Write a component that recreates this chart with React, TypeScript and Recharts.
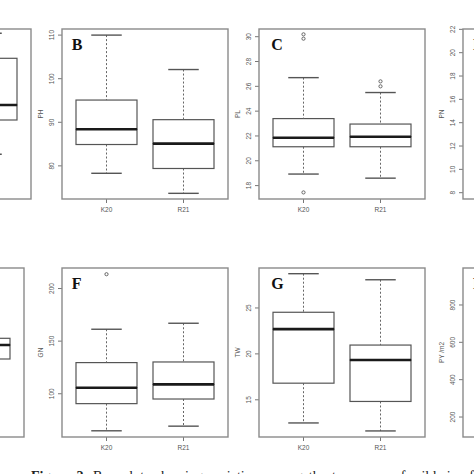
import React from 'react';
import { ComposedChart, Bar, Line, XAxis, YAxis } from 'recharts';

const groups = ['K20', 'R21'];

// five-number summaries per group: [min, q1, median, q3, max]
const statsA = [[48, 70, 88, 118, 150], [44.7, 79, 94, 140.7, 165.7]];
const statsB = [[78.3, 84.9, 88.4, 95.1, 110], [73.7, 79.4, 85.1, 90.6, 102.1]];
const statsC = [[18.93, 21.13, 21.86, 23.4, 26.7], [18.6, 21.13, 21.94, 22.96, 25.5]];
const statsD = [[9, 11.5, 13.5, 16, 20.5], [8, 11, 13, 15, 19]];
const statsE = [[40, 62, 80, 100, 130], [45, 78, 92, 98.7, 130]];
const statsF = [[64.8, 90.6, 105.7, 129.6, 161.3], [69.2, 95, 108.9, 130.2, 167]];
const statsG = [[12.48, 16.81, 22.69, 24.53, 28.73], [11.61, 14.82, 19.33, 20.96, 28.07]];
const statsH = [[180, 330, 420, 560, 820], [150, 300, 380, 500, 760]];

const outliersC = [[30.19, 29.84, 17.45], [26.4, 26.0]];
const outliersD = [[21.5], []];
const outliersF = [[213.6], []];

const ticksB = [80, 90, 100, 110];
const ticksC = [18, 20, 22, 24, 26, 28, 30];
const ticksD = [8, 10, 12, 14, 16, 18, 20, 22];
const ticksF = [100, 150, 200];
const ticksG = [15, 20, 25];
const ticksH = [200, 400, 600, 800];

const PW = 166; // plot width
const ML = 45; // left space for y axis
const MT = 10;

const lowWhisker = (p: any) => {
  const cx = p.x + p.width / 2;
  const cap = p.width / 4;
  const bottom = p.y + p.height;
  return (
    <g>
      <line x1={cx} y1={p.y} x2={cx} y2={bottom} stroke="#666" strokeDasharray="2 2" />
      <line x1={cx - cap} y1={bottom} x2={cx + cap} y2={bottom} stroke="#555" strokeWidth={1.4} />
    </g>
  );
};

const highWhisker = (p: any) => {
  const cx = p.x + p.width / 2;
  const cap = p.width / 4;
  return (
    <g>
      <line x1={cx} y1={p.y} x2={cx} y2={p.y + p.height} stroke="#666" strokeDasharray="2 2" />
      <line x1={cx - cap} y1={p.y} x2={cx + cap} y2={p.y} stroke="#555" strokeWidth={1.4} />
    </g>
  );
};

const lowBox = (p: any) => (
  <rect x={p.x} y={p.y} width={p.width} height={p.height} fill="#fff" stroke="#555" strokeWidth={1.2} />
);

const highBox = (p: any) => (
  <g>
    <rect x={p.x} y={p.y} width={p.width} height={p.height} fill="#fff" stroke="#555" strokeWidth={1.2} />
    <line x1={p.x} y1={p.y + p.height} x2={p.x + p.width} y2={p.y + p.height} stroke="#1a1a1a" strokeWidth={2.6} />
  </g>
);

const txtFont = '"Liberation Sans", Arial, sans-serif';

function BoxPanel({ left, top, h, stats, outliers, domain, ticks, label, letter, letterDx, showX = true }: any) {
  const data = groups.map((g, i) => {
    const [mn, q1, md, q3, mx] = stats[i];
    const out = outliers ? outliers[i] : [];
    return {
      name: g,
      base: mn,
      lowW: q1 - mn,
      lowB: md - q1,
      highB: q3 - md,
      highW: mx - q3,
      o1: out[0] ?? null,
      o2: out[1] ?? null,
      o3: out[2] ?? null,
    };
  });

  const yTick = (p: any) => {
    const bx = ML - 7.5;
    return (
      <text x={bx} y={p.y} transform={`rotate(-90 ${bx} ${p.y})`} textAnchor="middle" fontSize={6.5} fill="#555" fontFamily={txtFont}>
        {p.payload.value}
      </text>
    );
  };
  const xTick = (p: any) => (
    <text x={p.x} y={MT + h + 13.3} textAnchor="middle" fontSize={6.5} fill="#555" fontFamily={txtFont}>
      {p.payload.value}
    </text>
  );
  const dot = { r: 1.6, fill: 'none', stroke: '#666', strokeWidth: 1 };

  return (
    <div style={{ position: 'absolute', left: left - ML, top: top - MT, width: ML + PW + 10, height: MT + h + 25 }}>
      <ComposedChart width={ML + PW + 10} height={MT + h + 25} data={data} margin={{ top: MT, right: 10, bottom: 0, left: 0 }}>
        <XAxis dataKey="name" padding={{ left: 6, right: 6 }} axisLine={false} tickSize={4} tickLine={{ stroke: '#777' }} height={25} tick={showX ? xTick : false} interval={0} />
        <YAxis type="number" domain={domain} allowDataOverflow ticks={ticks} width={ML} axisLine={false} tickSize={4} tickMargin={2} tickLine={{ stroke: '#777' }} tick={yTick} interval={0} />
        <Bar dataKey="base" stackId="s" barSize={61} shape={() => <g />} isAnimationActive={false} />
        <Bar dataKey="lowW" stackId="s" barSize={61} shape={lowWhisker} isAnimationActive={false} />
        <Bar dataKey="lowB" stackId="s" barSize={61} shape={lowBox} isAnimationActive={false} />
        <Bar dataKey="highB" stackId="s" barSize={61} shape={highBox} isAnimationActive={false} />
        <Bar dataKey="highW" stackId="s" barSize={61} shape={highWhisker} isAnimationActive={false} />
        <Line dataKey="o1" stroke="none" dot={dot} activeDot={false} isAnimationActive={false} />
        <Line dataKey="o2" stroke="none" dot={dot} activeDot={false} isAnimationActive={false} />
        <Line dataKey="o3" stroke="none" dot={dot} activeDot={false} isAnimationActive={false} />
      </ComposedChart>
      <svg width={ML + PW + 10} height={MT + h + 25} style={{ position: 'absolute', left: 0, top: 0, pointerEvents: 'none' }}>
        <rect x={ML} y={MT} width={PW} height={h} fill="none" stroke="#8a8a8a" strokeWidth={1.4} />
        {label && (
          <text x={ML - 19.5} y={MT + h / 2} transform={`rotate(-90 ${ML - 19.5} ${MT + h / 2})`} textAnchor="middle" fontSize={6.5} fill="#555" fontFamily={txtFont}>
            {label}
          </text>
        )}
        {letter && (
          <text x={ML + letterDx} y={MT + 21} fontSize={16} fontWeight="bold" fill="#111" fontFamily='"Liberation Serif", "Times New Roman", serif'>
            {letter}
          </text>
        )}
      </svg>
    </div>
  );
}

export default function App() {
  return (
    <div style={{ position: 'fixed', left: 0, top: 0, width: 474, height: 474, overflow: 'hidden', background: '#fff' }}>
      <BoxPanel left={-135} top={29} h={170} stats={statsA} domain={[0, 170]} ticks={[]} label="" letter="" letterDx={10} showX={false} />
      <BoxPanel left={62} top={29} h={170} stats={statsB} domain={[72.4, 111.4]} ticks={ticksB} label="PH" letter="B" letterDx={9.7} />
      <BoxPanel left={259} top={29} h={170} stats={statsC} outliers={outliersC} domain={[16.92, 30.62]} ticks={ticksC} label="PL" letter="C" letterDx={12.3} />
      <BoxPanel left={463} top={29} h={170} stats={statsD} outliers={outliersD} domain={[7.46, 22.03]} ticks={ticksD} label="PN" letter="D" letterDx={10} />
      <BoxPanel left={-142} top={268} h={169} stats={statsE} domain={[0, 169]} ticks={[]} label="" letter="" letterDx={10} showX={false} />
      <BoxPanel left={62} top={268} h={169} stats={statsF} outliers={outliersF} domain={[58.9, 219.5]} ticks={ticksF} label="GN" letter="F" letterDx={9.7} />
      <BoxPanel left={259} top={268} h={169} stats={statsG} domain={[10.95, 29.35]} ticks={ticksG} label="TW" letter="G" letterDx={12.3} />
      <BoxPanel left={463} top={268} h={169} stats={statsH} domain={[93, 998]} ticks={ticksH} label="PY /m2" letter="H" letterDx={10} />
      <svg width={474} height={474} style={{ position: 'absolute', left: 0, top: 0, pointerEvents: 'none' }}>
        <text x={31} y={481.3} fontSize={14} fill="#222" wordSpacing={2.5} fontFamily='"Liberation Serif", "Times New Roman", serif'>
          <tspan fontWeight="bold">Figure 2.</tspan>
          <tspan dx={6}>Box plots showing variation among the two races of wild rice for the traits</tspan>
        </text>
      </svg>
    </div>
  );
}
